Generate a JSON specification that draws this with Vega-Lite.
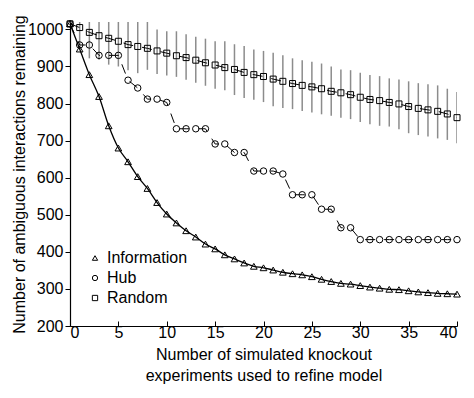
{
  "$schema": "https://vega.github.io/schema/vega-lite/v6.json",
  "width": 387,
  "height": 304,
  "autosize": {"type": "none"},
  "padding": {"left": 70, "top": 22, "right": 17, "bottom": 72},
  "background": "white",
  "datasets": {
    "info": [
      {"x":0,"y":1015},{"x":1,"y":947},{"x":2,"y":878},{"x":3,"y":819},{"x":4,"y":740},{"x":5,"y":680},{"x":6,"y":643},{"x":7,"y":603},{"x":8,"y":571},{"x":9,"y":533},{"x":10,"y":502},{"x":11,"y":478},{"x":12,"y":457},{"x":13,"y":440},{"x":14,"y":421},{"x":15,"y":408},{"x":16,"y":392},{"x":17,"y":381},{"x":18,"y":370},{"x":19,"y":361},{"x":20,"y":357},{"x":21,"y":351},{"x":22,"y":345},{"x":23,"y":341},{"x":24,"y":338},{"x":25,"y":333},{"x":26,"y":326},{"x":27,"y":320},{"x":28,"y":315},{"x":29,"y":313},{"x":30,"y":309},{"x":31,"y":305},{"x":32,"y":302},{"x":33,"y":299},{"x":34,"y":298},{"x":35,"y":295},{"x":36,"y":292},{"x":37,"y":290},{"x":38,"y":288},{"x":39,"y":287},{"x":40,"y":286}
    ],
    "hub": [
      {"x":0,"y":1015},{"x":1,"y":958},{"x":2,"y":958},{"x":3,"y":930},{"x":4,"y":930},{"x":5,"y":930},{"x":6,"y":863},{"x":7,"y":842},{"x":8,"y":812},{"x":9,"y":812},{"x":10,"y":803},{"x":11,"y":732},{"x":12,"y":732},{"x":13,"y":732},{"x":14,"y":732},{"x":15,"y":691},{"x":16,"y":691},{"x":17,"y":668},{"x":18,"y":668},{"x":19,"y":618},{"x":20,"y":618},{"x":21,"y":618},{"x":22,"y":610},{"x":23,"y":554},{"x":24,"y":554},{"x":25,"y":554},{"x":26,"y":515},{"x":27,"y":515},{"x":28,"y":465},{"x":29,"y":465},{"x":30,"y":433},{"x":31,"y":433},{"x":32,"y":433},{"x":33,"y":433},{"x":34,"y":433},{"x":35,"y":433},{"x":36,"y":433},{"x":37,"y":433},{"x":38,"y":433},{"x":39,"y":433},{"x":40,"y":433}
    ],
    "random": [
      {"x":0,"y":1015},
      {"x":1,"y":1005,"lo":955,"hi":1050},
      {"x":2,"y":992,"lo":922,"hi":1060},
      {"x":3,"y":983,"lo":918,"hi":1055},
      {"x":4,"y":976,"lo":905,"hi":1050},
      {"x":5,"y":968,"lo":900,"hi":1045},
      {"x":6,"y":959,"lo":890,"hi":1030},
      {"x":7,"y":954,"lo":882,"hi":1028},
      {"x":8,"y":949,"lo":891,"hi":1025},
      {"x":9,"y":942,"lo":880,"hi":1000},
      {"x":10,"y":936,"lo":876,"hi":995},
      {"x":11,"y":929,"lo":872,"hi":995},
      {"x":12,"y":924,"lo":864,"hi":987},
      {"x":13,"y":917,"lo":856,"hi":980},
      {"x":14,"y":910,"lo":848,"hi":975},
      {"x":15,"y":904,"lo":840,"hi":968},
      {"x":16,"y":897,"lo":836,"hi":968},
      {"x":17,"y":892,"lo":823,"hi":960},
      {"x":18,"y":884,"lo":815,"hi":955},
      {"x":19,"y":878,"lo":810,"hi":946},
      {"x":20,"y":873,"lo":804,"hi":942},
      {"x":21,"y":866,"lo":793,"hi":937},
      {"x":22,"y":860,"lo":788,"hi":930},
      {"x":23,"y":854,"lo":785,"hi":922},
      {"x":24,"y":849,"lo":780,"hi":917},
      {"x":25,"y":845,"lo":776,"hi":913},
      {"x":26,"y":840,"lo":771,"hi":908},
      {"x":27,"y":833,"lo":767,"hi":900},
      {"x":28,"y":829,"lo":762,"hi":892},
      {"x":29,"y":824,"lo":758,"hi":890},
      {"x":30,"y":817,"lo":750,"hi":883},
      {"x":31,"y":811,"lo":744,"hi":877},
      {"x":32,"y":808,"lo":740,"hi":874},
      {"x":33,"y":803,"lo":738,"hi":868},
      {"x":34,"y":799,"lo":731,"hi":865},
      {"x":35,"y":792,"lo":720,"hi":860},
      {"x":36,"y":787,"lo":715,"hi":855},
      {"x":37,"y":783,"lo":711,"hi":852},
      {"x":38,"y":779,"lo":706,"hi":849},
      {"x":39,"y":772,"lo":702,"hi":840},
      {"x":40,"y":762,"lo":693,"hi":831}
    ]
  },
  "encoding": {
    "x": {"field": "x", "type": "quantitative", "scale": {"domain": [0, 40], "nice": false},
      "axis": {"values": [0,5,10,15,20,25,30,35,40], "tickSize": -5, "labelPadding": 3, "title": ["Number of simulated knockout", "experiments used to refine model"], "titlePadding": 6, "titleLineHeight": 21}},
    "y": {"field": "y", "type": "quantitative", "scale": {"domain": [200, 1020], "nice": false, "zero": false},
      "axis": {"values": [200,300,400,500,600,700,800,900,1000], "format": "d", "tickSize": 5, "labelPadding": 2, "title": "Number of ambiguous interactions remaining", "titlePadding": 0}}
  },
  "layer": [
    {
      "data": {"name": "random"},
      "transform": [{"filter": "datum.lo != null"}],
      "mark": {"type": "rule", "color": "#8c8c8c", "strokeWidth": 1.5, "clip": true},
      "encoding": {"y": {"field": "lo", "type": "quantitative"}, "y2": {"field": "hi"}}
    },
    {
      "data": {"name": "random"},
      "mark": {"type": "line", "color": "black", "strokeWidth": 1, "strokeDash": [10, 9]}
    },
    {
      "data": {"name": "hub"},
      "mark": {"type": "line", "color": "black", "strokeWidth": 1, "strokeDash": [10, 9]}
    },
    {
      "data": {"name": "info"},
      "mark": {"type": "line", "color": "black", "strokeWidth": 1.3, "interpolate": "monotone"}
    },
    {
      "data": {"name": "random"},
      "transform": [{"calculate": "'Random'", "as": "series"}],
      "mark": {"type": "point", "stroke": "black", "strokeWidth": 1, "filled": false, "opacity": 1, "size": 36},
      "encoding": {"shape": {"field": "series", "type": "nominal", "scale": {"domain": ["Information", "Hub", "Random"], "range": ["triangle-up", "circle", "square"]}, "title": null}}
    },
    {
      "data": {"name": "hub"},
      "transform": [{"calculate": "'Hub'", "as": "series"}],
      "mark": {"type": "point", "stroke": "black", "strokeWidth": 1, "filled": false, "opacity": 1, "size": 42},
      "encoding": {"shape": {"field": "series", "type": "nominal"}}
    },
    {
      "data": {"name": "info"},
      "transform": [{"calculate": "'Information'", "as": "series"}],
      "mark": {"type": "point", "stroke": "black", "strokeWidth": 1, "filled": false, "opacity": 1, "size": 45},
      "encoding": {"shape": {"field": "series", "type": "nominal"}}
    }
  ],
  "config": {
    "view": {"stroke": null},
    "font": "Liberation Sans",
    "axis": {"grid": false, "domainColor": "black", "tickColor": "black", "labelColor": "black", "titleColor": "black", "labelFont": "Liberation Sans", "titleFont": "Liberation Sans", "labelFontSize": 16, "titleFontSize": 16, "titleFontWeight": "normal", "domainWidth": 1.2, "tickWidth": 1},
    "legend": {"orient": "none", "legendX": 17, "legendY": 228, "labelFont": "Liberation Sans", "labelFontSize": 16, "labelColor": "black", "symbolSize": 28, "symbolStrokeColor": "black", "symbolFillColor": "transparent", "symbolStrokeWidth": 1, "labelOffset": 4, "rowPadding": 4, "padding": 0}
  }
}
